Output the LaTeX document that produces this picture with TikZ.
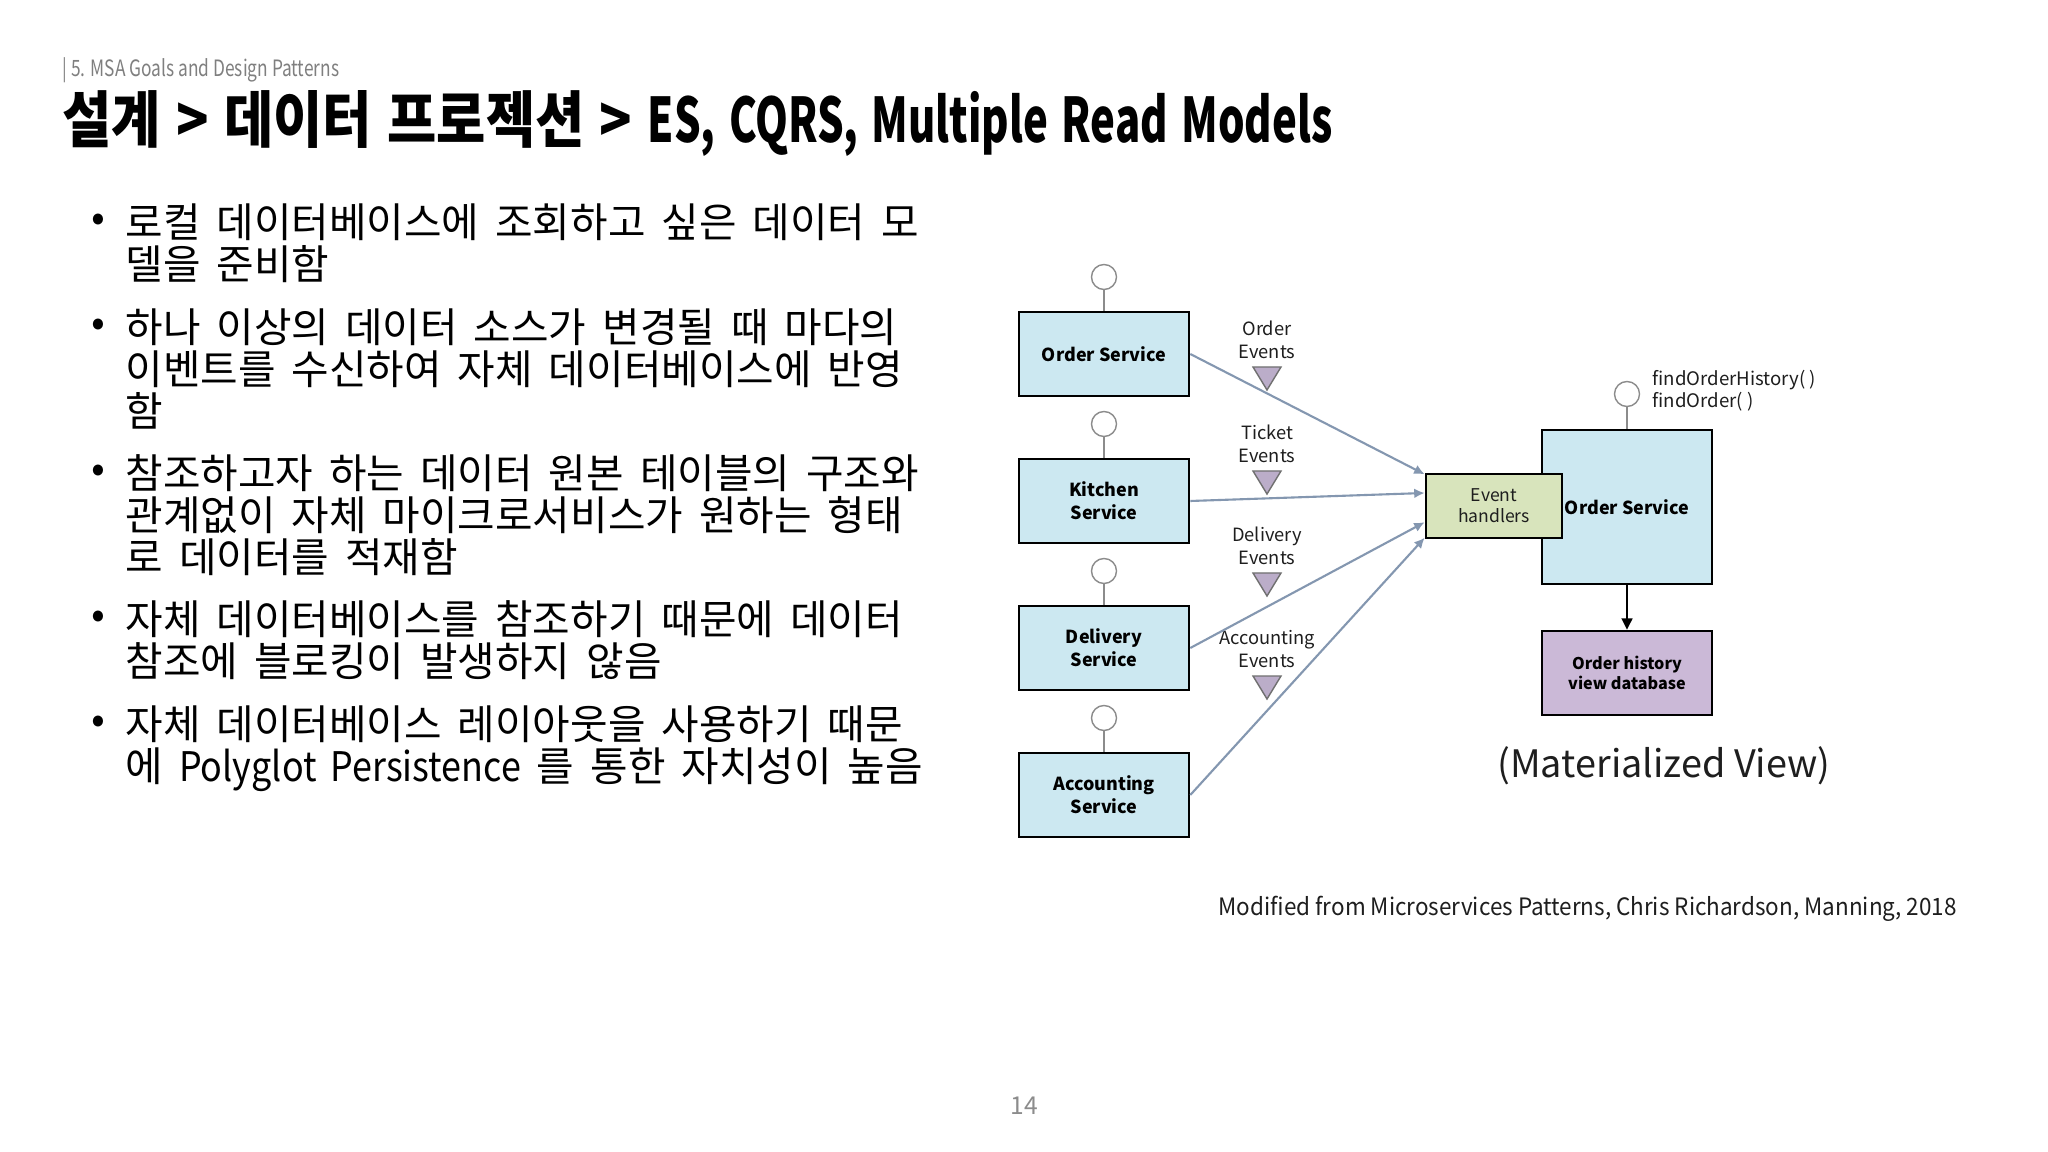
\documentclass[tikz,border=0pt]{standalone}
\usepackage{fontspec}
\setmainfont{Noto Sans CJK KR}
\newfontfamily\bodyfont[WordSpace=1.75]{Noto Sans CJK KR}
\newfontfamily\bodylatin[FakeStretch=0.88, WordSpace=1.75]{Noto Sans CJK KR}
\newfontfamily\titlefont[FakeStretch=0.87, WordSpace=1.25]{Noto Sans CJK KR}
\newfontfamily\titlelatin[FakeStretch=0.68, WordSpace=1.4]{Noto Sans CJK KR}
\newfontfamily\headfont[FakeStretch=0.77]{Noto Sans CJK KR}
\newfontfamily\citefont[FakeStretch=0.94]{Noto Sans CJK KR}
\usetikzlibrary{arrows.meta}
\definecolor{svc_blue}{HTML}{CCE8F1}
\definecolor{handler_green}{HTML}{D8E4BC}
\definecolor{db_purple}{HTML}{CBB9D7}
\definecolor{tri_purple}{HTML}{BBADC9}
\definecolor{flow_blue}{HTML}{8497B0}
\definecolor{port_gray}{HTML}{8C8C8C}
\definecolor{head_gray}{HTML}{7F7F7F}
\definecolor{text_dark}{HTML}{1E1E1E}

\begin{document}
\begin{tikzpicture}[
    x=0.01cm, y=-0.01cm,
    svc/.style={draw=black, line width=0.7pt, fill=svc_blue, minimum width=1.7cm,
        minimum height=0.84cm, align=center, inner sep=1pt,
        font=\bfseries\fontsize{5.1}{6.5}\selectfont},
    port/.style={circle, draw=port_gray, fill=white, line width=0.4pt,
        minimum size=0.25cm, inner sep=0pt},
    evlabel/.style={align=center, inner sep=0pt, text=text_dark,
        font=\fontsize{5.2}{6.5}\selectfont},
    flow/.style={flow_blue, line width=0.6pt, -{Latex[length=3pt, width=2.8pt]}},
    body/.style={align=left, anchor=north west, inner sep=0pt, text=black,
        font=\bodyfont\fontsize{11.6}{11.9}\selectfont},
    bulletdot/.style={inner sep=0pt, font=\fontsize{11.6}{11.9}\selectfont}
]
\useasboundingbox (0, 0) rectangle (2048, 1152);
\fill[white] (0, 0) rectangle (2048, 1152);

% Kopfzeile und Titel
\node[anchor=west, inner sep=0pt, text=head_gray, font=\headfont\fontsize{6.4}{7}\selectfont]
    (head) at (62, 70) {| 5. MSA Goals and Design Patterns};
\node[anchor=west, inner sep=0pt, text=black, font=\titlefont\bfseries\fontsize{17.5}{20}\selectfont]
    (title) at (62, 123) {설계 > 데이터 프로젝션 > {\titlelatin\bfseries ES, CQRS, Multiple Read Models}};

% Aufzaehlung
\foreach \y [count=\i] in {223, 328, 474, 620, 725}
    \node[bulletdot] (dot\i) at (98, \y) {•};
\node[body] (item1) at (125, 203) {로컬 데이터베이스에 조회하고 싶은 데이터 모\\델을 준비함};
\node[body] (item2) at (125, 308) {하나 이상의 데이터 소스가 변경될 때 마다의\\이벤트를 수신하여 자체 데이터베이스에 반영\\함};
\node[body] (item3) at (125, 454) {참조하고자 하는 데이터 원본 테이블의 구조와\\관계없이 자체 마이크로서비스가 원하는 형태\\로 데이터를 적재함};
\node[body] (item4) at (125, 600) {자체 데이터베이스를 참조하기 때문에 데이터\\참조에 블로킹이 발생하지 않음};
\node[body] (item5) at (125, 705) {자체 데이터베이스 레이아웃을 사용하기 때문\\에 {\bodylatin Polyglot Persistence} 를 통한 자치성이 높음};

% Quell-Services mit Schnittstellen
\node[svc] (osvc) at (1104, 354) {Order Service};
\node[svc] (ksvc) at (1104, 501) {Kitchen\\Service};
\node[svc] (dsvc) at (1104, 648) {Delivery\\Service};
\node[svc] (asvc) at (1104, 795) {Accounting\\Service};
\foreach \s/\y in {osvc/277, ksvc/424, dsvc/571, asvc/718} {
    \node[port] (port-\s) at (1104, \y) {};
    \draw[port_gray, line width=0.4pt] (port-\s) -- (\s);
}

% Event-Kanaele
\foreach \ly/\ev in {328/Order, 432/Ticket, 534/Delivery, 637/Accounting} {
    \node[evlabel] (lbl-\ev) at (1267, \ly+12) {\ev\\Events};
    \draw[fill=tri_purple, draw=port_gray!80!black, line width=0.4pt]
        (1253, \ly+39) -- (1281, \ly+39) -- (1267, \ly+62) -- cycle;
}

% Query-Seite
\node[svc, minimum height=1.54cm] (qsvc) at (1627, 507) {Order Service};
\node[draw=black, line width=0.7pt, fill=handler_green, minimum width=1.36cm,
    minimum height=0.64cm, align=center, inner sep=1pt, text=text_dark,
    font=\fontsize{5.0}{6.0}\selectfont] (evh) at (1494, 506) {Event\\handlers};
\node[svc, fill=db_purple, font=\bfseries\fontsize{4.6}{5.6}\selectfont]
    (viewdb) at (1627, 673) {Order history\\view database};
\node[port] (port-qsvc) at (1627, 394) {};
\draw[port_gray, line width=0.4pt] (port-qsvc) -- (qsvc);
\node[anchor=west, align=left, inner sep=0pt, text=text_dark,
    font=\fontsize{5.3}{6.3}\selectfont] (qapi) at (1652, 391)
    {findOrderHistory( )\\findOrder( )};
\draw[line width=0.7pt, -{Triangle[length=3.2pt, width=3pt]}] (qsvc) -- (viewdb);

% Event-Fluesse
\draw[flow] (osvc.east) -- ([yshift=9pt]evh.west);
\draw[flow] (ksvc.east) -- ([yshift=3.7pt]evh.west);
\draw[flow] (dsvc.east) -- ([yshift=-4.6pt]evh.west);
\draw[flow] (asvc.east) -- ([yshift=-9pt]evh.west);

\node[inner sep=0pt, text=text_dark, font=\fontsize{10.75}{12}\selectfont]
    (matview) at (1664, 766) {(Materialized View)};

% Quelle und Seitenzahl
\node[anchor=west, inner sep=0pt, text=text_dark, font=\citefont\fontsize{6.8}{8}\selectfont]
    (cite) at (1218, 909) {Modified from Microservices Patterns, Chris Richardson, Manning, 2018};
\node[inner sep=0pt, text=port_gray, font=\fontsize{7}{8}\selectfont]
    (pagenum) at (1024, 1106) {14};
\end{tikzpicture}
\end{document}
